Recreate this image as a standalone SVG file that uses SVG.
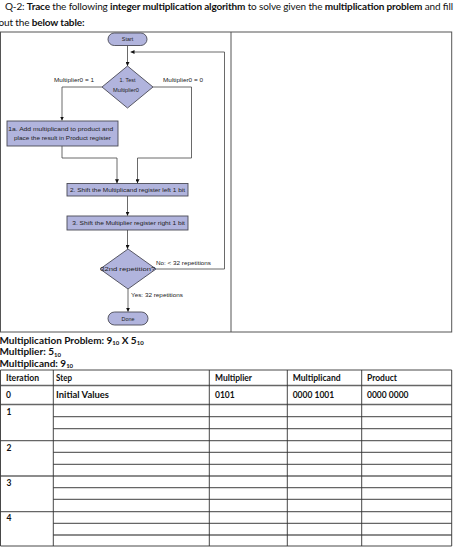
<svg xmlns="http://www.w3.org/2000/svg" width="474" height="559" viewBox="0 0 474 559">
<defs>
<style>
.h{font-family:Lato,"Liberation Sans",sans-serif;font-size:10px;fill:#111}
.b{font-weight:bold}
.t{font-family:Lato,"Liberation Sans",sans-serif;font-size:8.5px;fill:#111;font-weight:bold}
.f{font-family:"Liberation Sans",Arial,sans-serif;font-size:5.4px;fill:#222}
.node{fill:#b1b4dd;stroke:#4a4a55;stroke-width:0.9}
.con{fill:none;stroke:#444;stroke-width:0.8}
.frame{fill:none;stroke:#555;stroke-width:1}
.col{stroke:#333;stroke-width:0.9}
.row{stroke:#666;stroke-width:1.3}
</style>
<marker id="ah" markerUnits="userSpaceOnUse" markerWidth="4" markerHeight="4" refX="4" refY="2" orient="auto">
<path d="M0,0 L4,2 L0,4 z" fill="#111"/>
</marker>
</defs>
<rect width="474" height="559" fill="#fff"/>

<g id="heading">
<text class="h" x="5" y="9.5" font-size="9.6" textLength="448" lengthAdjust="spacing">Q-2: <tspan class="b">Trace</tspan> the following <tspan class="b">integer multiplication algorithm</tspan> to solve given the <tspan class="b">multiplication problem</tspan> and fill</text>
<text class="h" x="-1.5" y="26" textLength="86" lengthAdjust="spacing">out the <tspan class="b">below table:</tspan></text>
</g>

<g id="frame">
<rect class="frame" x="0.5" y="32" width="451.2" height="300"/>
<line class="frame" x1="231" y1="32" x2="231" y2="332"/>
</g>

<g id="connectors">
<line class="con" x1="127.5" y1="45.5" x2="127.5" y2="66" marker-end="url(#ah)"/>
<polyline class="con" points="102,87 62,87 62,120.5" marker-end="url(#ah)"/>
<polyline class="con" points="153,87 191.5,87 191.5,158 137.5,158 137.5,183.3" marker-end="url(#ah)"/>
<polyline class="con" points="62,146 62,158 117,158 117,183.3" marker-end="url(#ah)"/>
<line class="con" x1="127.5" y1="196" x2="127.5" y2="215.7" marker-end="url(#ah)"/>
<line class="con" x1="127.5" y1="230" x2="127.5" y2="249" marker-end="url(#ah)"/>
<polyline class="con" points="156,269 224.5,269 224.5,52 130.5,52" marker-end="url(#ah)"/>
<line class="con" x1="128" y1="289" x2="128" y2="311.7" marker-end="url(#ah)"/>
<text class="f" x="94" y="81.8" text-anchor="end" textLength="40" lengthAdjust="spacingAndGlyphs">Multiplier0 = 1</text>
<text class="f" x="163" y="81.8" textLength="40" lengthAdjust="spacingAndGlyphs">Multiplier0 = 0</text>
<text class="f" x="156" y="264.7" textLength="55" lengthAdjust="spacingAndGlyphs">No: &lt; 32 repetitions</text>
<text class="f" x="131" y="296.7" textLength="52" lengthAdjust="spacingAndGlyphs">Yes: 32 repetitions</text>
</g>

<g id="start">
<rect class="node" x="108" y="33" width="39" height="12.5" rx="6.25"/>
<text class="f" x="127.5" y="41.2" text-anchor="middle">Start</text>
</g>
<g id="test">
<polygon class="node" points="127.5,66 153,87 127.5,108 102,87"/>
<text class="f" x="127.5" y="82.2" text-anchor="middle">1.  Test</text>
<text class="f" x="126" y="92.2" text-anchor="middle" textLength="26" lengthAdjust="spacingAndGlyphs">Multiplier0</text>
</g>
<g id="add">
<rect class="node" x="7" y="121" width="111" height="25"/>
<text class="f" x="60.8" y="130.7" text-anchor="middle" textLength="105" lengthAdjust="spacingAndGlyphs">1a.  Add multiplicand to product and</text>
<text class="f" x="62.5" y="140" text-anchor="middle" textLength="97" lengthAdjust="spacingAndGlyphs">place the result in Product register</text>
</g>
<g id="shiftleft">
<rect class="node" x="67" y="183.5" width="121" height="12.5"/>
<text class="f" x="127.5" y="191.9" text-anchor="middle" textLength="115" lengthAdjust="spacingAndGlyphs">2.  Shift the Multiplicand register left 1 bit</text>
</g>
<g id="shiftright">
<rect class="node" x="67" y="216" width="121" height="14"/>
<text class="f" x="128.6" y="224.5" text-anchor="middle" textLength="112.7" lengthAdjust="spacingAndGlyphs">3.  Shift the Multiplier register right 1 bit</text>
</g>
<g id="repeat">
<polygon class="node" points="128,249 156,269 128,289 100,269"/>
<text class="f" x="127.7" y="271.2" text-anchor="middle" textLength="55" lengthAdjust="spacingAndGlyphs">32nd repetition?</text>
</g>
<g id="done">
<rect class="node" x="108" y="312" width="40" height="13" rx="6.5"/>
<text class="f" x="128" y="320.5" text-anchor="middle">Done</text>
</g>

<g id="problem">
<text class="h b" x="-0.5" y="343.5">Multiplication Problem: 9<tspan font-size="6" dy="1.5">10</tspan><tspan dy="-1.5"> X 5</tspan><tspan font-size="6" dy="1.5">10</tspan></text>
<text class="h b" x="-0.5" y="355.3">Multiplier: 5<tspan font-size="6" dy="1.3">10</tspan></text>
<text class="h b" x="-0.5" y="367">Multiplicand: 9<tspan font-size="6" dy="1.3">10</tspan></text>
</g>

<g id="table">
<line class="col" x1="0.5" y1="370" x2="451.7" y2="370"/>
<line class="row" x1="0.5" y1="385.5" x2="451.7" y2="385.5"/>
<line class="row" x1="0.5" y1="404.5" x2="451.7" y2="404.5"/>
<line class="row" x1="53.3" y1="416.7" x2="451.7" y2="416.7"/>
<line class="row" x1="53.3" y1="428.7" x2="451.7" y2="428.7"/>
<line class="row" x1="0.5" y1="440.7" x2="451.7" y2="440.7"/>
<line class="row" x1="53.3" y1="452.3" x2="451.7" y2="452.3"/>
<line class="row" x1="53.3" y1="464.3" x2="451.7" y2="464.3"/>
<line class="row" x1="0.5" y1="476" x2="451.7" y2="476"/>
<line class="row" x1="53.3" y1="487.7" x2="451.7" y2="487.7"/>
<line class="row" x1="53.3" y1="499.3" x2="451.7" y2="499.3"/>
<line class="row" x1="0.5" y1="511.7" x2="451.7" y2="511.7"/>
<line class="row" x1="53.3" y1="523.3" x2="451.7" y2="523.3"/>
<line class="row" x1="53.3" y1="535" x2="451.7" y2="535"/>
<line class="col" x1="0.5" y1="546" x2="451.7" y2="546"/>
<line class="col" x1="0.5" y1="370" x2="0.5" y2="546"/>
<line class="col" x1="53.3" y1="370" x2="53.3" y2="546"/>
<line class="col" x1="209.3" y1="370" x2="209.3" y2="546"/>
<line class="col" x1="287.3" y1="370" x2="287.3" y2="546"/>
<line class="col" x1="361.7" y1="370" x2="361.7" y2="546"/>
<line class="col" x1="451.7" y1="370" x2="451.7" y2="546"/>
<text class="t" x="6" y="381" textLength="33" lengthAdjust="spacingAndGlyphs">Iteration</text>
<text class="t" x="56" y="381" textLength="16" lengthAdjust="spacingAndGlyphs">Step</text>
<text class="t" x="215" y="381" textLength="37" lengthAdjust="spacingAndGlyphs">Multiplier</text>
<text class="t" x="292.7" y="381" textLength="48" lengthAdjust="spacingAndGlyphs">Multiplicand</text>
<text class="t" x="367" y="381" textLength="30" lengthAdjust="spacingAndGlyphs">Product</text>
<text class="t" x="6" y="397.5">0</text>
<text class="t" x="56" y="397.5" textLength="53" lengthAdjust="spacingAndGlyphs">Initial Values</text>
<text class="t" x="215" y="397.5">0101</text>
<text class="t" x="292.7" y="397.5">0000 1001</text>
<text class="t" x="367" y="397.5">0000 0000</text>
<text class="t" x="6.5" y="415">1</text>
<text class="t" x="6.5" y="450.5">2</text>
<text class="t" x="6.5" y="486">3</text>
<text class="t" x="6.5" y="520.5">4</text>
</g>
</svg>
